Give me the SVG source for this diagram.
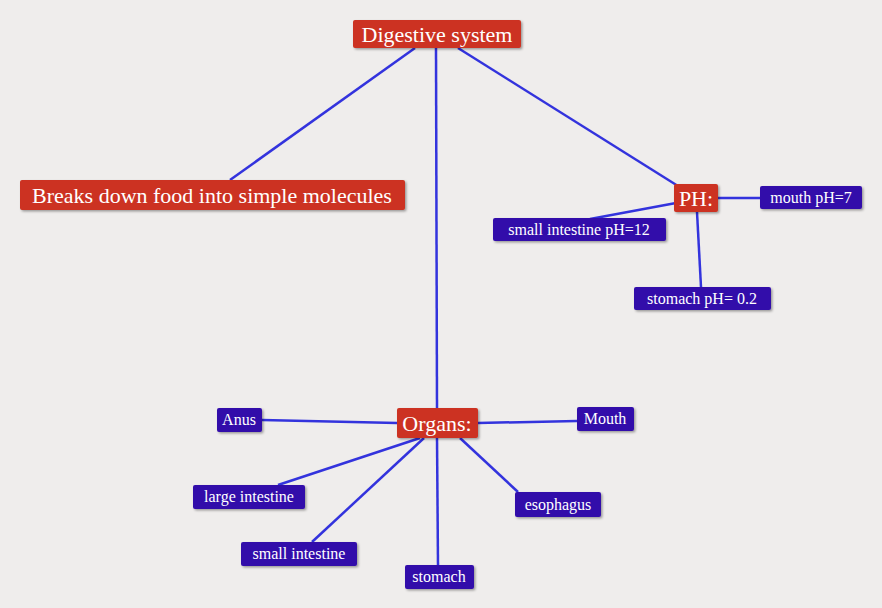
<svg xmlns="http://www.w3.org/2000/svg" width="882" height="608" viewBox="0 0 882 608">
<defs>
<filter id="sh" x="-10%" y="-20%" width="130%" height="160%"><feDropShadow dx="1.5" dy="1.5" stdDeviation="1.2" flood-color="#000" flood-opacity="0.35"/></filter>
<style>
.r{fill:#cc3322;filter:url(#sh)}
.b{fill:#3311aa;filter:url(#sh)}
text{font-family:"Liberation Serif",serif;fill:#fff;text-anchor:middle}
.L{font-size:22px}
.S{font-size:16px}
.c line{stroke:#3333dd;stroke-width:2.5}
</style>
</defs>
<rect width="882" height="608" fill="#efedec"/>
<g class="c">
<line x1="415" y1="48" x2="230" y2="180"/>
<line x1="436" y1="48" x2="437" y2="408"/>
<line x1="458" y1="48" x2="678" y2="186"/>
<line x1="718" y1="198" x2="760" y2="198"/>
<line x1="676" y1="203" x2="590" y2="219"/>
<line x1="697" y1="212" x2="701" y2="287"/>
<line x1="262" y1="420" x2="397" y2="423"/>
<line x1="478" y1="423" x2="577" y2="421"/>
<line x1="420" y1="438" x2="278" y2="485"/>
<line x1="424" y1="438" x2="312" y2="542"/>
<line x1="437" y1="438" x2="438" y2="565"/>
<line x1="460" y1="438" x2="518" y2="492"/>
</g>
<g id="digestive"><rect class="r" x="353" y="20" width="168" height="28" rx="2"/><text class="L" x="437" y="42">Digestive system</text></g>
<g id="breaks"><rect class="r" x="20" y="180" width="385" height="30" rx="2"/><text class="L" x="212" y="203">Breaks down food into simple molecules</text></g>
<g id="ph"><rect class="r" x="674" y="184" width="44" height="28" rx="2"/><text class="L" x="696" y="206">PH:</text></g>
<g id="mouthph"><rect class="b" x="760" y="186" width="102" height="23" rx="2"/><text class="S" x="811" y="203">mouth pH=7</text></g>
<g id="siph"><rect class="b" x="493" y="218" width="173" height="23" rx="2"/><text class="S" x="579" y="235">small intestine pH=12</text></g>
<g id="stph"><rect class="b" x="634" y="287" width="137" height="23" rx="2"/><text class="S" x="702" y="304">stomach pH= 0.2</text></g>
<g id="organs"><rect class="r" x="397" y="408" width="81" height="30" rx="2"/><text class="L" x="437" y="431">Organs:</text></g>
<g id="anus"><rect class="b" x="217" y="408" width="45" height="24" rx="2"/><text class="S" x="239" y="425">Anus</text></g>
<g id="mouth"><rect class="b" x="577" y="407" width="57" height="24" rx="2"/><text class="S" x="605" y="424">Mouth</text></g>
<g id="li"><rect class="b" x="193" y="485" width="112" height="24" rx="2"/><text class="S" x="249" y="502">large intestine</text></g>
<g id="eso"><rect class="b" x="515" y="492" width="86" height="25" rx="2"/><text class="S" x="558" y="510">esophagus</text></g>
<g id="si"><rect class="b" x="241" y="542" width="116" height="24" rx="2"/><text class="S" x="299" y="559">small intestine</text></g>
<g id="stomach"><rect class="b" x="405" y="565" width="69" height="24" rx="2"/><text class="S" x="439" y="582">stomach</text></g>
</svg>
